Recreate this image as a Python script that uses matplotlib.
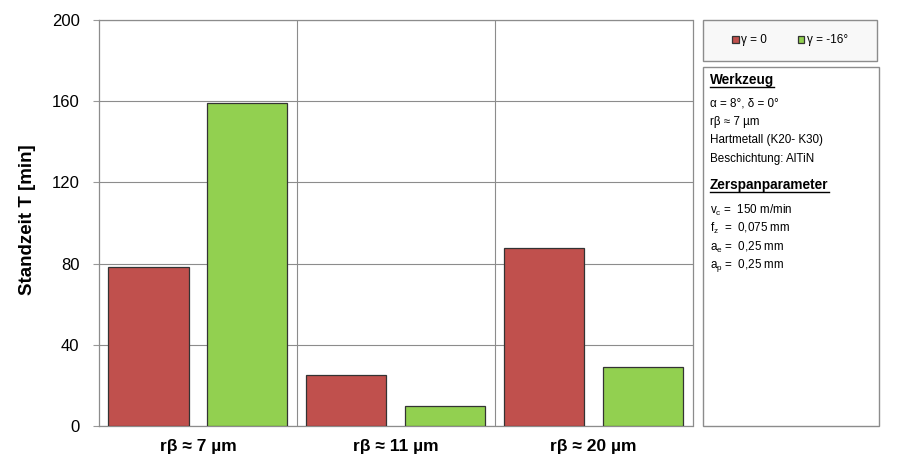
import matplotlib
matplotlib.use("Agg")
import matplotlib.pyplot as plt
import numpy as np
from matplotlib.patches import Rectangle
from matplotlib.lines import Line2D

plt.rcParams['font.family'] = ['Liberation Sans', 'DejaVu Sans']
plt.rcParams['mathtext.default'] = 'regular'

# Daten
categories = ['rβ ≈ 7 µm', 'rβ ≈ 11 µm', 'rβ ≈ 20 µm']
series_names = ['γ = 0', 'γ = -16°']
standzeit_g0 = [78.5, 25, 87.5]
standzeit_g16 = [159, 10, 29]

header_1 = 'Werkzeug'
tool_lines = ['α = 8°, δ = 0°', 'rβ ≈ 7 µm', 'Hartmetall (K20- K30)', 'Beschichtung: AlTiN']
header_2 = 'Zerspanparameter'
param_lines = ['v$_c$ =  150 m/min', 'f$_z$  =  0,075 mm', 'a$_e$ =  0,25 mm', 'a$_p$ =  0,25 mm']

W, H = 900, 461
fig = plt.figure(figsize=(9, 4.61), dpi=100)
ax = fig.add_axes([99 / W, 1 - 426 / H, (692.5 - 99) / W, (426 - 20) / H])

x = np.arange(len(categories))
bw = 0.405
b1 = ax.bar(x - 0.25, standzeit_g0, bw, color='#C0504D', edgecolor='#333333', linewidth=0.9,
            label=series_names[0], zorder=3)
b2 = ax.bar(x + 0.25, standzeit_g16, bw, color='#92D050', edgecolor='#333333', linewidth=0.9,
            label=series_names[1], zorder=3)

ax.set_xlim(-0.5, 2.5)
ax.set_ylim(0, 200)
ax.set_yticks([0, 40, 80, 120, 160, 200])
ax.set_xticks(x)
ax.set_xticklabels(categories, fontsize=12.5, fontweight='bold')
ax.set_xticks([0.5, 1.5], minor=True)
ax.tick_params(axis='x', which='both', length=0, pad=9)
ax.tick_params(axis='y', labelsize=12, length=4, color='#999999', direction='out', pad=10)
ax.grid(axis='y', color='#8c8c8c', linewidth=0.8, zorder=0)
ax.grid(axis='x', which='minor', color='#8c8c8c', linewidth=0.8, zorder=0)
for s in ax.spines.values():
    s.set_color('#8c8c8c')
    s.set_linewidth(0.9)
ax.set_ylabel('Standzeit T [min]', fontsize=13.5, fontweight='bold')
ax.yaxis.set_label_coords(-0.106, 0.509)

# Legendenbox
fig.patches.append(Rectangle((703 / W, 1 - 61 / H), (877 - 703) / W, 41 / H, transform=fig.transFigure,
                             facecolor='#f8f8f8', edgecolor='#8c8c8c', linewidth=1.0))
fig.legend(handles=[b1, b2], labels=series_names, loc='center', bbox_to_anchor=(790 / W, 1 - 40.5 / H),
           ncol=2, frameon=False, fontsize=8.5, handlelength=0.55, handleheight=0.55,
           handletextpad=0.2, columnspacing=2.6)

# Infobox
fig.patches.append(Rectangle((703 / W, 1 - 426 / H), (879 - 703) / W, (426 - 67) / H, transform=fig.transFigure,
                             facecolor='white', edgecolor='#8c8c8c', linewidth=1.0))

tx = 710 / W
headers = []
headers.append(fig.text(tx, 1 - 80 / H, header_1, fontsize=9.8, fontweight='bold', va='center'))
for i, t in enumerate(tool_lines):
    fig.text(tx, 1 - (103 + 18.7 * i) / H, t, fontsize=8.4, va='center')
headers.append(fig.text(tx, 1 - 185 / H, header_2, fontsize=9.8, fontweight='bold', va='center'))
for i, t in enumerate(param_lines):
    fig.text(tx, 1 - (210 + 18.5 * i) / H, t, fontsize=8.4, va='center')

# Unterstreichungen
fig.canvas.draw()
r = fig.canvas.get_renderer()
for h in headers:
    bb = h.get_window_extent(r)
    y = bb.y0
    fig.add_artist(Line2D([bb.x0 / W, bb.x1 / W], [y / H, y / H], transform=fig.transFigure,
                          color='black', linewidth=1.0))

fig.savefig('out.png', dpi=100)
